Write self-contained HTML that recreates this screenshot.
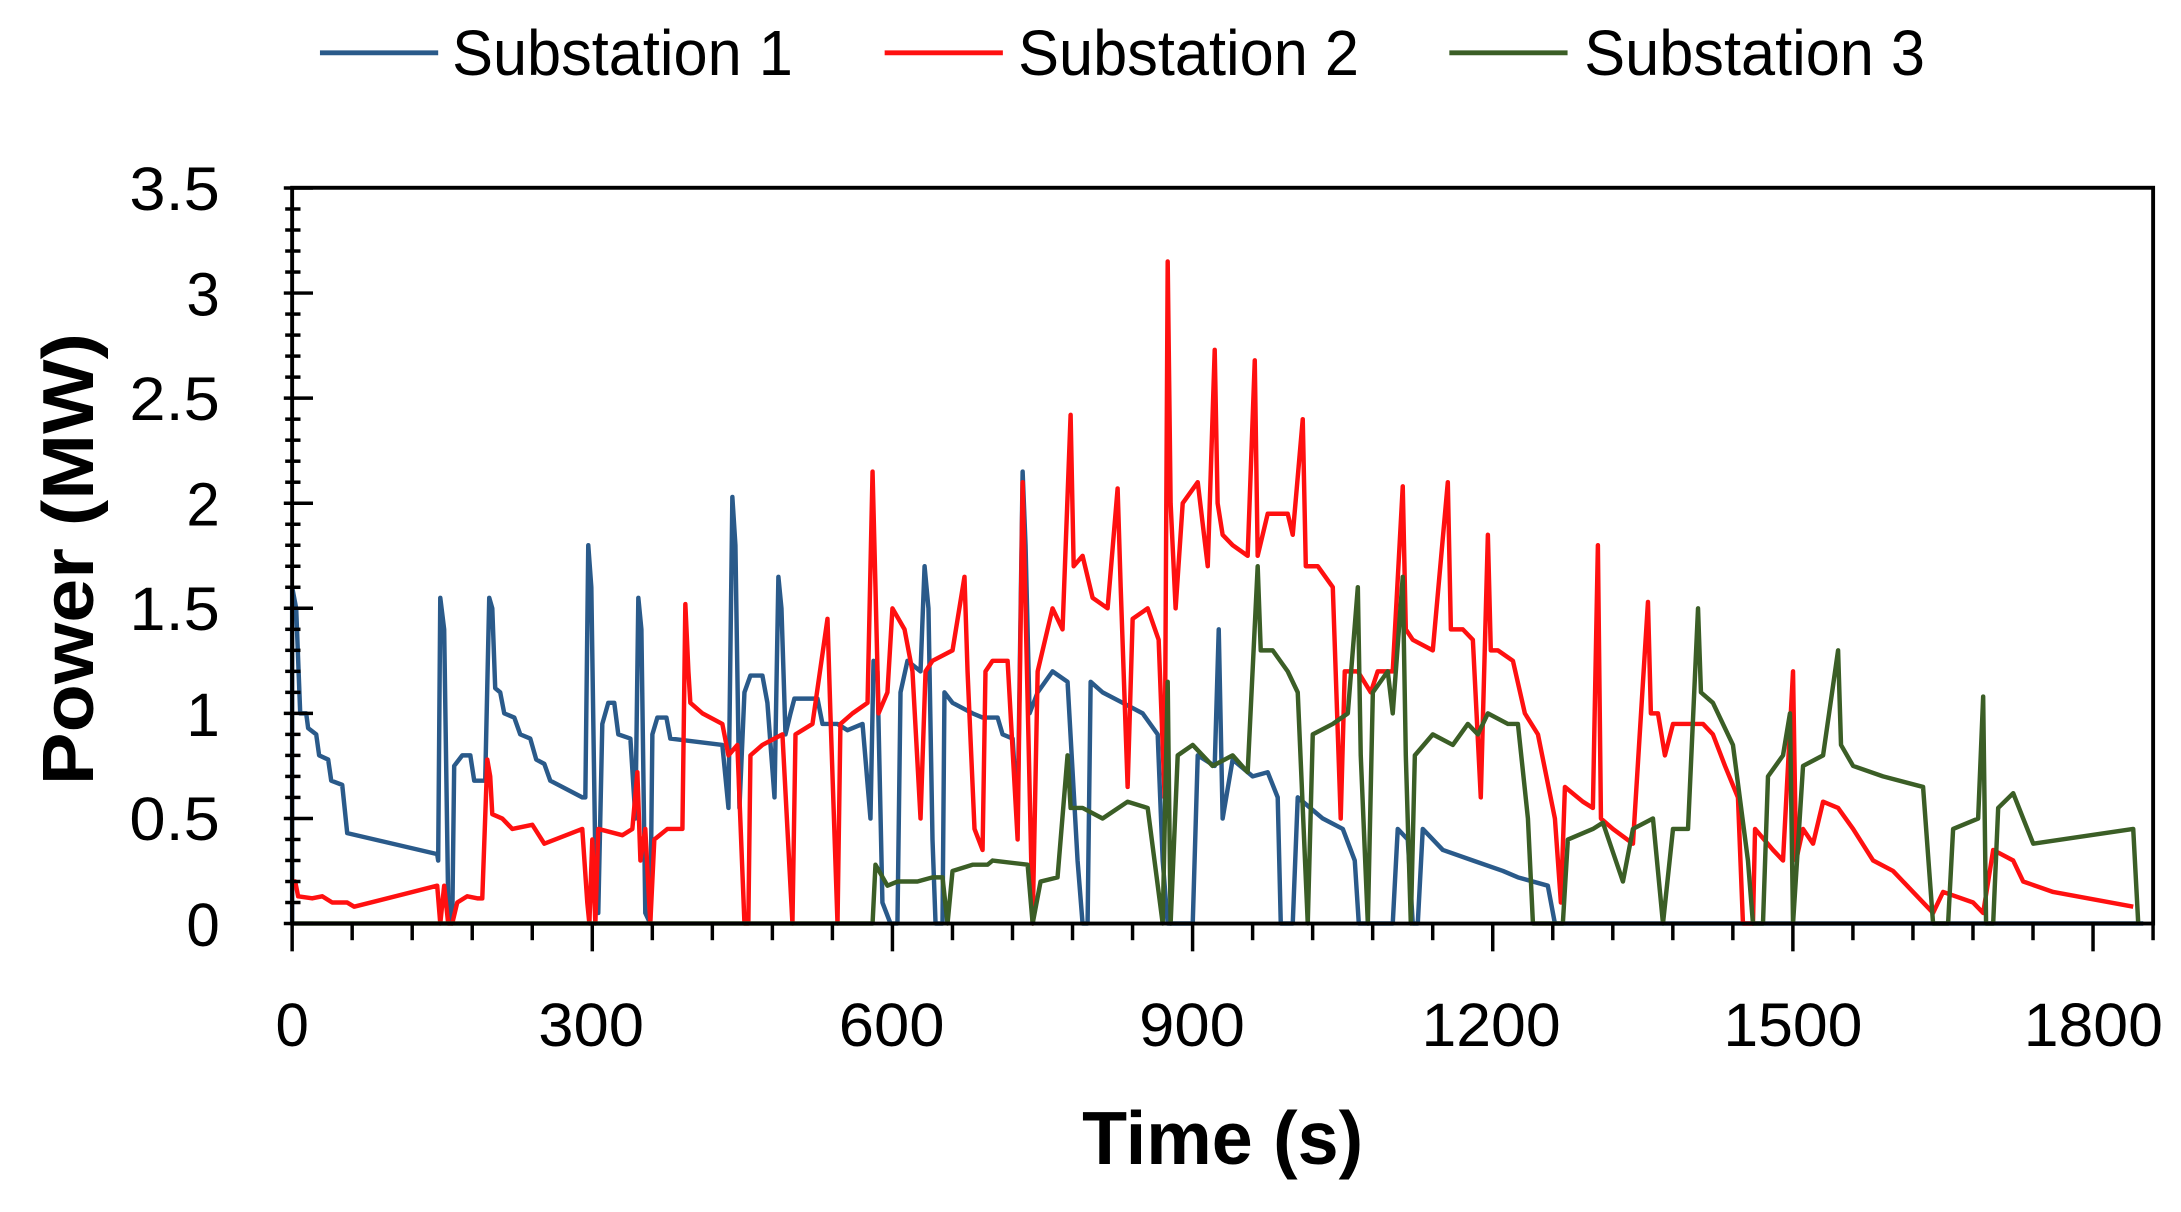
<!DOCTYPE html>
<html><head><meta charset="utf-8"><style>
html,body{margin:0;padding:0;background:#fff;}
svg{display:block;}
text{font-family:"Liberation Sans",sans-serif;}
</style></head><body>
<svg id="s" width="2181" height="1212" viewBox="0 0 1568 871.4" xmlns="http://www.w3.org/2000/svg">
<rect width="1568" height="872" fill="#fff"/>
<g id="plot"></g>
<rect x="210" y="135" width="1338" height="529" fill="none" stroke="#000" stroke-width="2.8"/>
<g id="ticks" stroke="#000" stroke-width="2.5"></g>
<g font-size="44" fill="#000" text-anchor="end" lengthAdjust="spacingAndGlyphs">
<text x="158" y="680" textLength="24" lengthAdjust="spacingAndGlyphs">0</text>
<text x="158" y="604" textLength="65" lengthAdjust="spacingAndGlyphs">0.5</text>
<text x="158" y="529" textLength="24" lengthAdjust="spacingAndGlyphs">1</text>
<text x="158" y="453" textLength="65" lengthAdjust="spacingAndGlyphs">1.5</text>
<text x="158" y="378" textLength="24" lengthAdjust="spacingAndGlyphs">2</text>
<text x="158" y="302" textLength="65" lengthAdjust="spacingAndGlyphs">2.5</text>
<text x="158" y="227" textLength="24" lengthAdjust="spacingAndGlyphs">3</text>
<text x="158" y="151" textLength="65" lengthAdjust="spacingAndGlyphs">3.5</text>
</g>
<g font-size="44" fill="#000" text-anchor="middle">
<text x="210" y="752" textLength="24" lengthAdjust="spacingAndGlyphs">0</text>
<text x="425" y="752" textLength="76" lengthAdjust="spacingAndGlyphs">300</text>
<text x="641" y="752" textLength="76" lengthAdjust="spacingAndGlyphs">600</text>
<text x="857" y="752" textLength="76" lengthAdjust="spacingAndGlyphs">900</text>
<text x="1072" y="752" textLength="100" lengthAdjust="spacingAndGlyphs">1200</text>
<text x="1289" y="752" textLength="100" lengthAdjust="spacingAndGlyphs">1500</text>
<text x="1505" y="752" textLength="100" lengthAdjust="spacingAndGlyphs">1800</text>
</g>
<text x="879" y="837" font-size="54" font-weight="bold" text-anchor="middle" textLength="202" lengthAdjust="spacingAndGlyphs">Time (s)</text>
<text transform="translate(67,402) rotate(-90)" font-size="52" font-weight="bold" text-anchor="middle" textLength="325" lengthAdjust="spacingAndGlyphs">Power (MW)</text>
<g font-size="46" fill="#000">
<line x1="230" y1="38" x2="315" y2="38" stroke="#2a5a8a" stroke-width="3.5"/>
<text x="325" y="54" textLength="245" lengthAdjust="spacingAndGlyphs">Substation 1</text>
<line x1="636" y1="38" x2="721" y2="38" stroke="#ff1010" stroke-width="3.5"/>
<text x="732" y="54" textLength="245" lengthAdjust="spacingAndGlyphs">Substation 2</text>
<line x1="1042" y1="38" x2="1127" y2="38" stroke="#3b5e26" stroke-width="3.5"/>
<text x="1139" y="54" textLength="245" lengthAdjust="spacingAndGlyphs">Substation 3</text>
</g>
</svg>
<script>
var X=function(t){return 210+t*0.7194;},Y=function(v){return 664-v*151.1;};
function path(pts,col,w){var d='';for(var i=0;i<pts.length;i+=2){d+=(i?'L':'M')+X(pts[i]).toFixed(1)+' '+Y(pts[i+1]).toFixed(1);}
var p=document.createElementNS('http://www.w3.org/2000/svg','path');p.setAttribute('d',d);p.setAttribute('fill','none');p.setAttribute('stroke',col);p.setAttribute('stroke-width',w);p.setAttribute('stroke-linejoin','round');document.getElementById('plot').appendChild(p);}
var blue=[0,0,0,1.6,4,1.5,8,1.0,14,1.0,16,0.93,24,0.9,27,0.8,36,0.78,39,0.68,50,0.66,55,0.43,145,0.33,146,0.3,148,1.55,152,1.4,156,0.1,160,0,162,0.75,170,0.8,178,0.8,182,0.68,193,0.68,197,1.55,200,1.5,203,1.12,208,1.1,212,1.0,222,0.98,228,0.9,238,0.88,244,0.78,252,0.76,258,0.68,290,0.6,293,0.6,296,1.8,299,1.6,303,0.3,306,0.05,310,0.95,316,1.05,322,1.05,326,0.9,338,0.88,343,0.5,346,1.55,349,1.4,353,0.05,358,0,360,0.9,365,0.98,374,0.98,378,0.88,430,0.85,436,0.55,440,2.03,443,1.8,447,0.55,452,1.1,458,1.18,470,1.18,475,1.05,482,0.6,486,1.65,489,1.5,493,0.9,498,1.0,502,1.07,525,1.07,530,0.95,545,0.95,555,0.92,570,0.95,578,0.5,581,1.25,585,1.2,590,0.1,598,0,605,0,608,1.1,615,1.25,628,1.2,632,1.7,636,1.5,640,0.4,643,0,650,0,652,1.1,660,1.05,680,1.0,690,0.98,705,0.98,710,0.9,720,0.88,725,0.5,730,2.15,733,1.8,737,1.0,745,1.1,760,1.2,775,1.15,785,0.3,790,0,795,0,798,1.15,810,1.1,830,1.05,850,1.0,865,0.9,870,0.3,875,0,900,0,905,0.8,922,0.75,926,1.4,930,0.5,940,0.78,960,0.7,975,0.72,985,0.6,988,0,1000,0,1005,0.6,1030,0.5,1050,0.45,1062,0.3,1066,0,1100,0,1105,0.45,1115,0.4,1120,0,1125,0,1130,0.45,1150,0.35,1180,0.3,1210,0.25,1225,0.22,1255,0.18,1262,0,1850,0];
var red=[0,0.2,3,0.2,6,0.13,20,0.12,30,0.13,40,0.1,55,0.1,62,0.08,145,0.18,148,0,152,0.18,156,0,160,0,165,0.1,175,0.13,185,0.12,190,0.12,195,0.78,198,0.7,200,0.52,210,0.5,220,0.45,240,0.47,252,0.38,290,0.45,295,0.1,297,0,300,0.4,303,0,306,0.45,330,0.42,340,0.45,345,0.72,348,0.3,353,0.45,358,0,362,0.4,375,0.45,390,0.45,393,1.52,396,1.2,398,1.05,410,1.0,430,0.95,436,0.8,445,0.85,452,0,456,0,458,0.8,470,0.85,490,0.9,500,0,503,0.9,520,0.95,535,1.45,538,1.0,545,0,548,0.95,560,1.0,575,1.05,580,2.15,583,1.6,586,1.0,595,1.1,600,1.5,612,1.4,620,1.2,628,0.5,633,1.2,640,1.25,660,1.3,672,1.65,675,1.2,682,0.45,690,0.35,693,1.2,700,1.25,715,1.25,725,0.4,730,2.1,733,1.5,740,0,745,1.2,760,1.5,770,1.4,778,2.42,781,1.7,790,1.75,800,1.55,815,1.5,825,2.07,828,1.6,835,0.65,840,1.45,855,1.5,866,1.35,872,0.6,875,3.15,878,2.0,883,1.5,890,2.0,905,2.1,915,1.7,922,2.73,925,2.0,930,1.85,940,1.8,955,1.75,962,2.68,965,1.75,975,1.95,995,1.95,1000,1.85,1010,2.4,1013,1.7,1025,1.7,1040,1.6,1048,0.5,1052,1.2,1065,1.2,1078,1.1,1085,1.2,1100,1.2,1110,2.08,1113,1.4,1120,1.35,1140,1.3,1155,2.1,1158,1.4,1170,1.4,1180,1.35,1188,0.6,1195,1.85,1198,1.3,1205,1.3,1220,1.25,1232,1.0,1245,0.9,1262,0.5,1268,0.1,1272,0.65,1290,0.58,1300,0.55,1305,1.8,1308,0.5,1320,0.45,1340,0.38,1355,1.53,1358,1.0,1365,1.0,1372,0.8,1380,0.95,1395,0.95,1410,0.95,1420,0.9,1432,0.75,1445,0.6,1450,0,1460,0,1462,0.45,1480,0.35,1490,0.3,1500,1.2,1503,0.3,1510,0.45,1520,0.38,1530,0.58,1545,0.55,1560,0.45,1580,0.3,1600,0.25,1640,0.05,1650,0.15,1680,0.1,1690,0.05,1700,0.35,1720,0.3,1730,0.2,1760,0.15,1840,0.08];
var green=[0,0,580,0,583,0.28,595,0.18,605,0.2,625,0.2,640,0.22,650,0.22,655,0,660,0.25,680,0.28,695,0.28,700,0.3,735,0.28,740,0,748,0.2,765,0.22,775,0.8,778,0.55,790,0.55,810,0.5,835,0.58,855,0.55,870,0,875,1.15,878,0,885,0.8,900,0.85,920,0.75,940,0.8,955,0.72,965,1.7,968,1.3,980,1.3,995,1.2,1005,1.1,1015,0,1020,0.9,1040,0.95,1055,1.0,1065,1.6,1068,0.8,1075,0,1080,1.1,1095,1.2,1100,1.0,1110,1.65,1113,0.8,1118,0,1122,0.8,1140,0.9,1160,0.85,1175,0.95,1185,0.9,1195,1.0,1215,0.95,1225,0.95,1235,0.5,1240,0,1270,0,1275,0.4,1300,0.45,1310,0.48,1330,0.2,1340,0.45,1360,0.5,1370,0,1380,0.45,1395,0.45,1405,1.5,1408,1.1,1420,1.05,1440,0.85,1455,0.3,1460,0,1470,0,1475,0.7,1490,0.8,1497,1.0,1500,0,1510,0.75,1530,0.8,1545,1.3,1548,0.85,1560,0.75,1590,0.7,1630,0.65,1640,0,1655,0,1660,0.45,1685,0.5,1690,1.08,1693,0,1700,0,1705,0.55,1720,0.62,1730,0.5,1740,0.38,1840,0.45,1845,0];
path(blue,'#2a5a8a',3.2);path(red,'#ff1010',3.2);path(green,'#3b5e26',3.2);
var g=document.getElementById('ticks'),h='';
for(var i=0;i<=35;i++){var y=664-i*15.11;h+='<line x1="'+(i%5==0?204:205)+'" y1="'+y+'" x2="'+(i%5==0?225:216)+'" y2="'+y+'"/>';}
for(var j=0;j<=31;j++){var x=210+j*43.16;if(x>1549)break;h+='<line x1="'+x+'" y1="664" x2="'+x+'" y2="'+(j%5==0?684:676)+'"/>';}
g.innerHTML=h;
</script>
</body></html>
